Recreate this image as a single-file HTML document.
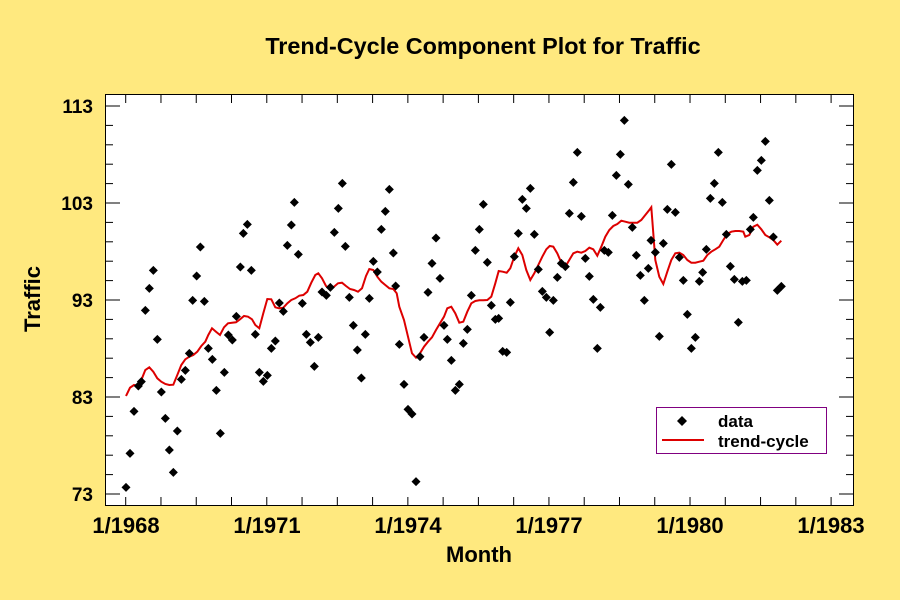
<!DOCTYPE html>
<html><head><meta charset="utf-8"><style>
body{margin:0;background:#FFE97F;}
svg{display:block;font-family:"Liberation Sans",Arial,sans-serif;font-weight:bold;}
</style></head><body>
<svg id="s" width="900" height="600" xmlns="http://www.w3.org/2000/svg">
<rect width="900" height="600" fill="#FFE97F"/>
<rect x="105.5" y="94.5" width="748" height="411" fill="#fff" stroke="#000" stroke-width="1"/>
<text x="483" y="54" font-size="23.4" text-anchor="middle">Trend-Cycle Component Plot for Traffic</text>
<g font-size="19" text-anchor="end">
<text x="93" y="113">113</text><text x="93" y="210">103</text><text x="93" y="307">93</text><text x="93" y="404">83</text><text x="93" y="501">73</text>
</g>
<g font-size="22" text-anchor="middle">
<text x="126" y="533">1/1968</text><text x="267" y="533">1/1971</text><text x="408" y="533">1/1974</text><text x="549" y="533">1/1977</text><text x="690" y="533">1/1980</text><text x="831" y="533">1/1983</text>
</g>
<text x="479" y="562" font-size="22" text-anchor="middle">Month</text>
<text transform="translate(40,299) rotate(-90)" font-size="22" text-anchor="middle">Traffic</text>
<g id="ticks" stroke="#000" stroke-width="1"></g>
<polyline id="tr" fill="none" stroke="#dd0000" stroke-width="2" points=""/>
<g id="pts"></g>
<rect x="656.5" y="407.5" width="170" height="46" fill="#fff" stroke="#800080" stroke-width="1"/>
<path d="M682 416 L687 421 L682 426 L677 421Z" fill="#000"/>
<line x1="662" y1="440" x2="704" y2="440" stroke="#dd0000" stroke-width="2"/>
<text x="718" y="427" font-size="17">data</text>
<text x="718" y="447" font-size="17">trend-cycle</text>
</svg>
<script>
var t=document.getElementById("ticks"),h="";
for(var i=0;i<=20;i++){var x=125.7+i*35.27;if(x>853)break;h+='<line x1="'+x+'" y1="95" x2="'+x+'" y2="103"/><line x1="'+x+'" y1="505" x2="'+x+'" y2="497"/>';}
for(var v=73;v<=113;v+=2){var y=494-(v-73)*9.7;var L=((v-73)%10==0)?14:7;h+='<line x1="106" y1="'+y+'" x2="'+(106+L)+'" y2="'+y+'"/><line x1="853" y1="'+y+'" x2="'+(853-L)+'" y2="'+y+'"/>';}
t.innerHTML=h;
var z1=[78,1192,90,1090,102,964,115,888,124,875,136,661,148,595,160,541,172,748,184,906,196,985,208,1080,220,1147,232,1023,244,868,256,841,268,790,278,631,290,558,301,471,313,634,325,775,337,808,349,901,361,1030,373,847,385,735,397,750,409,679,421,531,430,430,442,403,454,541,466,733,478,847,490,874,502,856,514,775,526,753,538,639,550,664,562,466,574,405,583,337,595,493,607,640,619,733,631,757,643,829,655,742,666,606,679,616,691,592,703,427,715,355,727,280,736,469,748,622,760,706,772,780,784,864,796,733,808,625,820,514,832,546,844,418,856,364,868,298,880,489,887,588,898,763];
var z2=[12,883,24,958,36,972,48,1175,60,800,72,742,84,607,96,520,108,444,120,565,132,706,142,748,154,811,166,901,178,883,190,760,202,718,214,616,226,481,238,418,250,343,262,517,274,646,286,688,296,685,308,784,320,787,331,637,343,500,355,430,367,328,379,355,391,295,403,433,415,538,427,604,439,622,449,727,460,631,472,562,484,520,496,530,508,370,520,277,532,187,544,379,556,505,568,559,580,628,592,775,601,652,613,481,625,487,637,376,649,256,661,193,673,91,685,283,697,412,709,496,721,556,733,631,745,535,753,451,766,487,778,739,790,460,802,358,814,223,826,367,838,502,850,571,862,673,874,775,886,742,898,574,908,547,919,478,931,325,943,280,955,187,967,337,979,433,991,529,1003,568,1015,697,1027,574,1039,571,1051,418,1060,382,1072,241,1084,211,1096,154,1108,331,1120,441,1132,601,1144,589];
var r1=[78,918,90,893,102,885,115,888,126,865,136,840,148,832,160,845,172,865,184,875,196,882,208,885,220,884,232,855,244,825,256,808,268,800,280,795,292,785,304,768,316,755,325,735,336,715,348,725,360,735,372,712,384,700,396,698,408,697,420,688,432,678,444,680,456,688,466,705,478,715,490,670,502,627,514,628,526,652,538,655,550,653,562,640,574,630,586,625,598,617,610,615,622,605,634,578,646,555,655,550,666,565,678,588,690,597,702,590,714,580,726,578,738,588,750,597,762,600,774,605,786,595,798,558,808,537,820,540,832,560,844,575,856,585,868,595,880,597,890,610,898,650];
var r2=[12,690,24,740,36,790,48,803,60,790,72,770,84,755,96,742,108,720,120,700,132,680,142,655,154,650,166,670,178,698,190,695,202,665,214,640,226,633,238,631,250,631,262,630,274,620,286,580,296,543,308,545,320,548,331,535,343,500,355,475,367,495,379,540,391,570,403,550,415,525,427,500,439,478,449,468,460,470,472,490,484,518,496,530,508,510,520,490,532,485,544,488,556,483,568,473,580,478,592,497,604,470,616,440,628,420,640,408,652,402,664,392,676,395,688,398,700,398,712,398,724,390,736,375,748,360,754,352,760,430,766,510,778,560,790,582,802,545,814,510,826,490,838,488,850,495,862,510,874,518,886,518,898,515,910,512,922,495,934,485,946,478,958,470,970,450,982,432,994,425,1006,423,1018,423,1030,425,1036,440,1048,435,1060,410,1072,404,1084,418,1096,435,1108,442,1120,450,1132,464,1144,452];
var p="",q="";
function add(a,ox,oy){for(var i=0;i<a.length;i+=2){var x=a[i]/3+ox,y=a[i+1]/3+oy;p+='<path d="M'+x+' '+(y-4.5)+'L'+(x+4.5)+' '+y+'L'+x+' '+(y+4.5)+'L'+(x-4.5)+' '+y+'Z"/>';}}
add(z1,100,90);add(z2,400,90);
document.getElementById("pts").innerHTML=p;
function ln(a,ox,oy){for(var i=0;i<a.length;i+=2){q+=(a[i]/3+ox).toFixed(1)+','+(a[i+1]/3+oy).toFixed(1)+' ';}}
ln(r1,100,90);ln(r2,400,90);
document.getElementById("tr").setAttribute("points",q);
</script>
</body></html>
